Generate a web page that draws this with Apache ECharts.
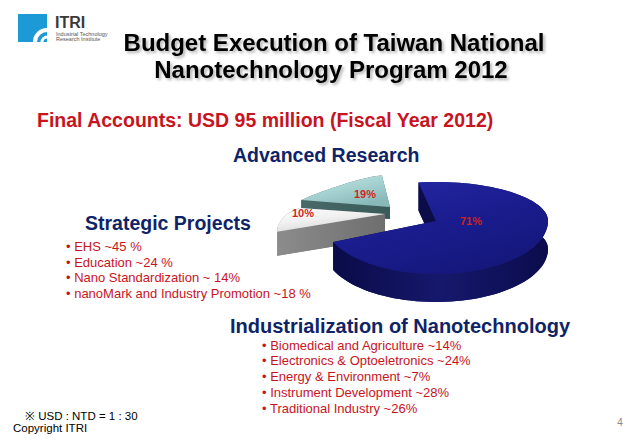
<!DOCTYPE html>
<html>
<head>
<meta charset="utf-8">
<script src="https://cdn.jsdelivr.net/npm/echarts@6/dist/echarts.min.js"></script>
<style>
html,body{margin:0;padding:0;background:#fff;}
#chart{width:638px;height:442px;}
</style>
</head>
<body>
<div id="chart"></div>
<script>
// ---- data ----
const sliceNames = ['Industrialization of Nanotechnology', 'Strategic Projects', 'Advanced Research'];
const sliceValues = [71, 10, 19];
const titleLines = ['Budget Execution of Taiwan National', 'Nanotechnology Program 2012'];
const subtitle = 'Final Accounts: USD 95 million (Fiscal Year 2012)';
const strategicItems = ['EHS ~45 %', 'Education ~24 %', 'Nano Standardization ~ 14%', 'nanoMark and Industry Promotion ~18 %'];
const industrialItems = ['Biomedical and Agriculture ~14%', 'Electronics & Optoeletronics ~24%', 'Energy & Environment ~7%', 'Instrument Development ~28%', 'Traditional Industry ~26%'];
const footnote = '\u203B USD : NTD = 1 : 30';
const copyright = 'Copyright ITRI';
const pageNumber = '4';

// ---- styles ----
const FONT = '"Liberation Sans", Arial, Helvetica, sans-serif';
const NAVY = '#0f2467';
const RED = '#c8141e';
const pieCenter = [436, 221];
const startDeg = -99;
const sliceStyle = [
  {dx: 0, dy: 0, rx: 112, ryB: 39, ryF: 53, k: 0, depth: 28, z: 30, labelDx: 35, labelDy: 0,
   top: ['#2529a6', '#1b1d90', '#15177c'], wall: ['#0a0b48', '#16186c', '#0b0c4c'], radial: ['#0b0c48', '#0b0c48']},
  {dx: -51, dy: -7, rx: 98, ryB: 27, ryF: 45, k: 0.5, depth: 24, z: 20, labelDx: -82, labelDy: -1,
   top: ['#ffffff', '#f0f0f0', '#d2d2d2'], wall: ['#8a8a8a', '#808080', '#747474'], radial: ['#8c8c8c', '#6e6e6e']},
  {dx: -46, dy: -14, rx: 102, ryB: 32, ryF: 32, k: 0.5, depth: 12, z: 10, labelDx: -25, labelDy: -13,
   top: ['#c4e6e6', '#a8d3d3', '#88b8b8'], wall: ['#3c5c5c', '#4a6c6c', '#3a5858'], radial: ['#4a6a6a', '#3a5a5a']}
];

const total = sliceValues.reduce((a, b) => a + b, 0);
const cum = [];
sliceValues.reduce((acc, v, i) => { cum[i] = acc; return acc + v; }, 0);

function P(cx, cy, s, deg, dy) {
  const t = deg * Math.PI / 180;
  const c = Math.cos(t), sn = Math.sin(t);
  return [cx + s.rx * c * (1 + s.k * sn), cy + (sn < 0 ? s.ryB : s.ryF) * sn + (dy || 0)];
}
function arcPts(cx, cy, s, a0, a1, dy) {
  const n = Math.max(6, Math.ceil(Math.abs(a1 - a0) / 3));
  const pts = [];
  for (let i = 0; i <= n; i++) pts.push(P(cx, cy, s, a0 + (a1 - a0) * i / n, dy));
  return pts;
}
function grad(colors, horizontal) {
  return {type: 'linear', x: 0, y: 0, x2: horizontal ? 1 : 0.6, y2: horizontal ? 0 : 1,
    colorStops: colors.map((c, i) => ({offset: i / (colors.length - 1), color: c}))};
}

function renderItem(params, api) {
  const i = params.dataIndex;
  const v = api.value(1);
  const s = sliceStyle[i];
  const a0 = startDeg + 360 * cum[i] / total;
  const a1 = a0 + 360 * v / total;
  const cx = pieCenter[0] + s.dx, cy = pieCenter[1] + s.dy;
  const d = s.depth;
  const topArc = arcPts(cx, cy, s, a0, a1, 0);
  const botArc = arcPts(cx, cy, s, a0, a1, d);
  const topPoly = [[cx, cy]].concat(topArc);
  const botPoly = [[cx, cy + d]].concat(botArc);
  const wall = topArc.concat(botArc.slice().reverse());
  const e0 = P(cx, cy, s, a0), e1 = P(cx, cy, s, a1);
  const rad0 = [[cx, cy], e0, [e0[0], e0[1] + d], [cx, cy + d]];
  const rad1 = [[cx, cy], e1, [e1[0], e1[1] + d], [cx, cy + d]];
  const z = s.z;
  return {
    type: 'group',
    children: [
      {type: 'polygon', shape: {points: botPoly}, style: {fill: s.wall[1]}, z2: z},
      {type: 'polygon', shape: {points: rad1}, style: {fill: grad(s.radial, true)}, z2: z + 1},
      {type: 'polygon', shape: {points: wall}, style: {fill: grad(s.wall, true)}, z2: z + 2},
      {type: 'polygon', shape: {points: rad0}, style: {fill: grad(s.radial, true)}, z2: z + 3},
      {type: 'polygon', shape: {points: topPoly}, style: {fill: grad(s.top, false)}, z2: z + 4},
      {type: 'text', z2: z + 5, style: {
        text: Math.round(100 * v / total) + '%', x: cx + s.labelDx, y: cy + s.labelDy,
        fill: '#d41f26', font: 'bold 11px ' + FONT, align: 'center', verticalAlign: 'middle'}}
    ]
  };
}

function txt(text, x, y, size, color, bold, align, extra) {
  return {
    type: 'text', x: x, y: y, z: 10,
    style: Object.assign({text: text, fill: color, font: (bold ? 'bold ' : '') + size + 'px ' + FONT,
      textAlign: align || 'left', textVerticalAlign: 'middle', align: align || 'left', verticalAlign: 'middle'}, extra || {})
  };
}

const graphics = [];
// logo
graphics.push({type: 'rect', shape: {x: 18, y: 14, width: 29, height: 28}, style: {fill: '#1c9ad6'}});
graphics.push({type: 'arc', shape: {cx: 47, cy: 42, r: 12, startAngle: Math.PI, endAngle: Math.PI * 1.5}, style: {stroke: '#fff', lineWidth: 4, fill: 'none'}});
graphics.push({type: 'arc', shape: {cx: 47, cy: 42, r: 5, startAngle: Math.PI, endAngle: Math.PI * 1.5}, style: {stroke: '#fff', lineWidth: 3, fill: 'none'}});
graphics.push(txt('ITRI', 55, 22, 16, '#3a3a3a', true));
graphics.push(txt('Industrial Technology', 56, 34, 5.5, '#555', false));
graphics.push(txt('Research Institute', 56, 39, 5.5, '#555', false));
// title
const shadow = {textShadowColor: 'rgba(0,0,0,0.3)', textShadowOffsetX: 2, textShadowOffsetY: 2, textShadowBlur: 3};
graphics.push(txt(titleLines[0], 334, 42, 24, '#000', true, 'center', shadow));
graphics.push(txt(titleLines[1], 331, 69, 24, '#000', true, 'center', shadow));
graphics.push(txt(subtitle, 37, 120, 19.5, RED, true));
// headings
graphics.push(txt(sliceNames[2], 233, 155, 19.5, NAVY, true));
graphics.push(txt(sliceNames[1], 85, 223, 19.5, NAVY, true));
graphics.push(txt(sliceNames[0], 230, 326, 20, NAVY, true));
// bullets
strategicItems.forEach((t, k) => graphics.push(txt('\u2022 ' + t, 66, 246.5 + k * 15.5, 13, RED, false)));
industrialItems.forEach((t, k) => graphics.push(txt('\u2022 ' + t, 262, 345 + k * 15.8, 13, RED, false)));
// footer
graphics.push(txt(footnote, 25, 416, 11.5, '#000', false));
graphics.push(txt(copyright, 13, 428, 11.5, '#000', false));
graphics.push(txt(pageNumber, 620, 422, 10, '#888', false, 'center'));

const chart = echarts.init(document.getElementById('chart'), null, {renderer: 'svg', width: 638, height: 442});
chart.setOption({
  backgroundColor: '#fff',
  animation: false,
  graphic: graphics,
  series: [{
    type: 'custom',
    coordinateSystem: 'none',
    renderItem: renderItem,
    data: sliceValues.map((v, i) => ({name: sliceNames[i], value: [i, v]}))
  }]
});
</script>
</body>
</html>
